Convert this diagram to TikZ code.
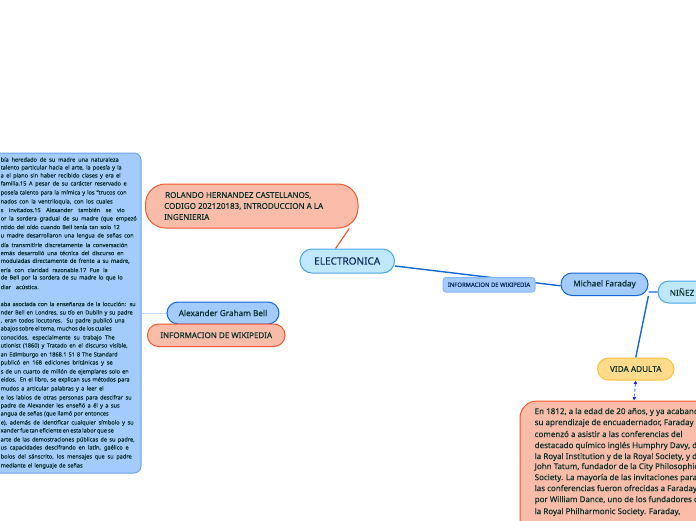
\documentclass[tikz,border=0pt]{standalone}
\usepackage{fontspec}
\setmainfont[FakeBold=0.2]{Noto Sans}
\usetikzlibrary{arrows.meta}
\pgfdeclarelayer{back}
\pgfsetlayers{back,main}
\definecolor{orangefill}{HTML}{F9BCA8}
\definecolor{orangeline}{HTML}{F4592C}
\definecolor{bluefill}{HTML}{A3CBFB}
\definecolor{blueline}{HTML}{1366D6}
\definecolor{cyanfill}{HTML}{C0E8FC}
\definecolor{cyanline}{HTML}{4AA6E2}
\definecolor{yellowfill}{HTML}{FEDB8A}
\definecolor{yellowline}{HTML}{FBC33F}
\definecolor{darktext}{HTML}{08302A}
\definecolor{navytext}{HTML}{0A2A5E}
\tikzset{x=1pt,y=-1pt,
 pill/.style n args={4}{rectangle,rounded corners=#1,line width=1pt,inner sep=0pt,
   minimum width=#2,minimum height=#3,text=darktext,
   font=\fontsize{#4}{#4}\selectfont},
 orangepill/.style={fill=orangefill,draw=orangeline},
 bluepill/.style={fill=bluefill,draw=blueline},
 cyanpill/.style={fill=cyanfill,draw=cyanline},
 yellowpill/.style={fill=yellowfill,draw=yellowline},
 conn/.style={line width=1.4pt,blueline},
 leftline/.style={anchor=west,inner sep=0pt,text=darktext,font=\fontsize{5.6}{6}\selectfont},
 rightline/.style={anchor=west,inner sep=0pt,text=darktext,font=\fontsize{8}{9}\selectfont}}
\begin{document}
\begin{tikzpicture}
\useasboundingbox (0,0) rectangle (696,520);
\clip (0,0) rectangle (696,520);
% left text box
\node[pill={7}{161pt}{320pt}{6},fill=bluefill,draw=bluefill!60!blueline] (lbox) at (60.5,313) {};
\foreach \y/\r/\t in {
159.5/118/bía heredado de su madre una naturaleza,
168/121/talento particular hacia el arte{,} la poesía y la,
176/120/a el piano sin haber recibido clases y era el,
184/126/familia.15 A pesar de su carácter reservado e,
193/126/poseía talento para la mímica y los "trucos con,
202/112/nados con la ventriloquia{,} con los cuales,
210/124/s invitados.15 Alexander también se vio,
219/136/or la sordera gradual de su madre (que empezó,
227/119/ntido del oído cuando Bell tenía tan solo 12,
236/133/u madre desarrollaron una lengua de señas con,
245/127/día transmitirle discretamente la conversación,
253/123/emás desarrolló una técnica del discurso en,
261/129/moduladas directamente de frente a su madre{,},
270/107/ería con claridad razonable.17 Fue la,
278/122/de Bell por la sordera de su madre lo que lo,
287/38/diar acústica.,
304/135/aba asociada con la enseñanza de la locución: su,
313/132/nder Bell en Londres{,} su tío en Dublín y su padre,
321/124/{,} eran todos locutores. Su padre publicó una,
329/111/abajos sobre el tema{,} muchos de los cuales,
338/114/conocidos{,} especialmente su trabajo The,
346/127/utionist (1860) y Tratado en el discurso visible{,},
355/117/an Edimburgo en 1868.1 51 8 The Standard,
363/112/publicó en 168 ediciones británicas y se,
372/128/s de un cuarto de millón de ejemplares solo en,
380/129/eidos. En el libro{,} se explican sus métodos para,
389/103/mudos a articular palabras y a leer el,
398/131/e los labios de otras personas para descifrar su,
406/119/padre de Alexander les enseñó a él y a sus,
414/108/angua de señas (que llamó por entonces,
423/133/e){,} además de identificar cualquier símbolo y su,
431/113/xander fue tan eficiente en esta labor que se,
440/134/arte de las demostraciones públicas de su padre{,},
448/128/us capacidades descifrando en latín{,} gaélico e,
457/131/bolos del sánscrito{,} los mensajes que su padre,
466/82/mediante el lenguaje de señas}
 { \node[leftline] (left\y) at (0.5,\y) {\makebox[\r pt][s]{\t}}; }
% top orange
\node[pill={20}{212.5pt}{44pt}{8},orangepill] (rol) at (251.75,206) {};
\node[anchor=west,inner sep=0pt,align=left,text=darktext,font=\fontsize{8}{11}\selectfont] (roltext) at (164,206) {\hspace*{1pt}ROLANDO  HERNANDEZ CASTELLANOS,\\CODIGO  202120183, INTRODUCCION A LA\\INGENIERIA};
\node[pill={12}{94.5pt}{24pt}{10},cyanpill,text=navytext] (elec) at (347.25,261) {ELECTRONICA};
\node[pill={11}{112pt}{22pt}{8.2},bluepill] (bell) at (223,313) {Alexander Graham Bell};
\node[pill={11}{137.5pt}{22.5pt}{8},orangepill] (wiki) at (216.25,335.25) {INFORMACION DE WIKIPEDIA};
\node[pill={3}{92pt}{14.5pt}{5.9},fill=bluefill,draw=bluefill!80!blueline,text=navytext] (info) at (489,284.75) {INFORMACION DE WIKIPEDIA};
\node[pill={11}{87pt}{22.5pt}{8.2},bluepill] (far) at (604.5,284.25) {Michael Faraday};
\node[pill={11}{48pt}{22pt}{8.2},cyanpill] (nin) at (682,292) {NIÑEZ};
\node[pill={11}{76.5pt}{22pt}{8.2},yellowpill] (vida) at (635.75,369) {VIDA ADULTA};
\node[pill={17}{228pt}{160pt}{8},orangepill] (rbox) at (634,481) {};
\foreach \y/\t in {
412/En 1812{,} a la edad de 20 años{,} y ya acabando,
423/su aprendizaje de encuadernador{,} Faraday,
434/comenzó a asistir a las conferencias del,
446/destacado químico inglés Humphry Davy{,} de,
457/la Royal Institution y de la Royal Society{,} y de,
467/John Tatum{,} fundador de la City Philosophical,
478/Society. La mayoría de las invitaciones para,
489/las conferencias fueron ofrecidas a Faraday,
500/por William Dance{,} uno de los fundadores de,
512/la Royal Philharmonic Society. Faraday{,}}
 { \node[rightline] (right\y) at (534.5,\y) {\t}; }
% connectors
\begin{pgfonlayer}{back}
\draw[line width=1.2pt,orangeline] (rol.-13.6) -- (elec.133);
\draw[conn] (elec.-6) -- (far.182);
\draw[conn] (far.-10.4) -- (nin.west);
\draw[conn] (far.-15.5) -- (vida.north);
\draw[line width=1pt,bluefill!70] (lbox.east) -- (bell.west);
\end{pgfonlayer}
\draw[line width=1.1pt,blue!25!bluefill!70!blueline,dash pattern=on 3pt off 2pt,
  {Latex[length=3.5pt,width=4pt,blue!90]}-{Latex[length=3.5pt,width=4pt,blue!90]}]
  (vida.south) -- (rbox.north);
\end{tikzpicture}
\end{document}
